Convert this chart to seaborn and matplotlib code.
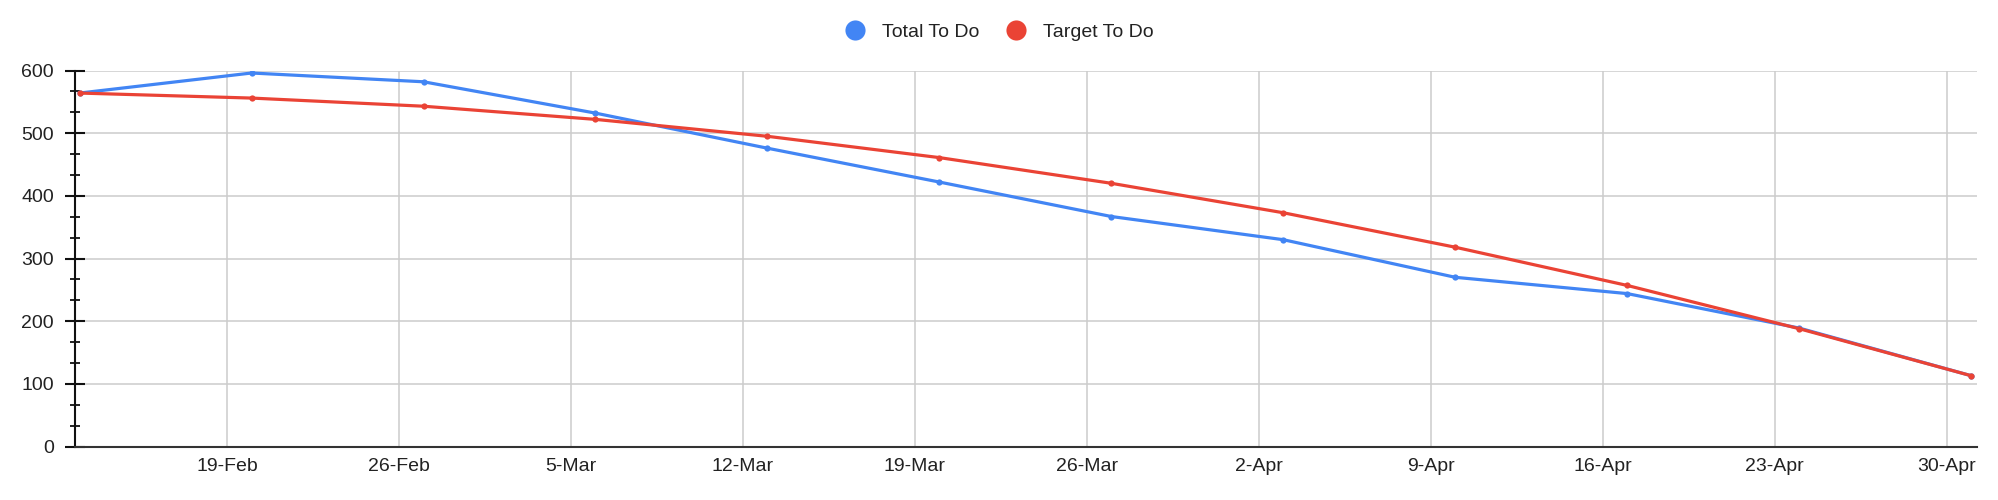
import matplotlib
matplotlib.use("Agg")
import matplotlib.pyplot as plt
import matplotlib.dates as mdates
from matplotlib.lines import Line2D
from matplotlib.ticker import MultipleLocator
import seaborn as sns
import pandas as pd

dates = ["2018-02-13", "2018-02-20", "2018-02-27", "2018-03-06", "2018-03-13", "2018-03-20",
         "2018-03-27", "2018-04-03", "2018-04-10", "2018-04-17", "2018-04-24", "2018-05-01"]
total_to_do = [564, 596, 582, 532, 476, 422, 367, 330, 270, 244, 189, 113]
target_to_do = [564, 556, 543, 522, 495, 461, 420, 373, 318, 257, 188, 113]
series_names = ["Total To Do", "Target To Do"]
colors = ["#4285F4", "#EA4335"]

df = pd.DataFrame({
    "date": pd.to_datetime(dates * 2),
    "value": total_to_do + target_to_do,
    "series": [series_names[0]] * len(dates) + [series_names[1]] * len(dates),
})

sns.set_theme(style="white")
plt.rcParams["font.family"] = ["Liberation Sans", "DejaVu Sans"]

fig = plt.figure(figsize=(19.99, 5.0), dpi=100)
ax = fig.add_axes([75 / 1999, 1 - 446.5 / 500, (1977 - 75) / 1999, (446.5 - 70.5) / 500])

sns.lineplot(data=df, x="date", y="value", hue="series", palette=colors,
             hue_order=series_names, marker="o", markersize=4.5, markeredgewidth=0,
             linewidth=2.3, ax=ax, legend=False)

ax.set_xlim(pd.Timestamp("2018-02-12 19:30"), pd.Timestamp("2018-05-01 05:45"))
ax.set_ylim(0, 600)
ax.yaxis.set_major_locator(MultipleLocator(100))
ax.yaxis.set_minor_locator(MultipleLocator(100 / 3))
ax.xaxis.set_major_locator(mdates.WeekdayLocator(byweekday=mdates.MO))
ax.xaxis.set_major_formatter(mdates.DateFormatter("%-d-%b"))

ax.grid(True, which="major", color="#cccccc", linewidth=1.1)
ax.set_axisbelow(True)
for s in ["top", "right"]:
    ax.spines[s].set_visible(False)
ax.spines["left"].set_color("#111111")
ax.spines["left"].set_linewidth(1.5)
ax.spines["bottom"].set_color("#333333")
ax.spines["bottom"].set_linewidth(1.5)

ax.tick_params(axis="y", which="major", direction="inout", length=14.4, width=1.5,
               color="#111111", labelsize=14, labelcolor="#222222", pad=8, left=True)
ax.tick_params(axis="y", which="minor", direction="inout", length=7.5, width=1.3,
               color="#111111", left=True)
ax.tick_params(axis="x", which="major", length=0, labelsize=14, labelcolor="#222222", pad=8)
ax.set_xlabel("")
ax.set_ylabel("")

handles = [Line2D([0], [0], marker="o", linestyle="none", markersize=14.5,
                  markerfacecolor=c, markeredgewidth=0) for c in colors]
fig.legend(handles, series_names, loc="center", bbox_to_anchor=(0.5, 1 - 32 / 500),
           ncol=2, frameon=False, fontsize=14, handlelength=1.0, handletextpad=0.9,
           columnspacing=1.4, labelcolor="#222222")

fig.savefig("out.png", dpi=100)
